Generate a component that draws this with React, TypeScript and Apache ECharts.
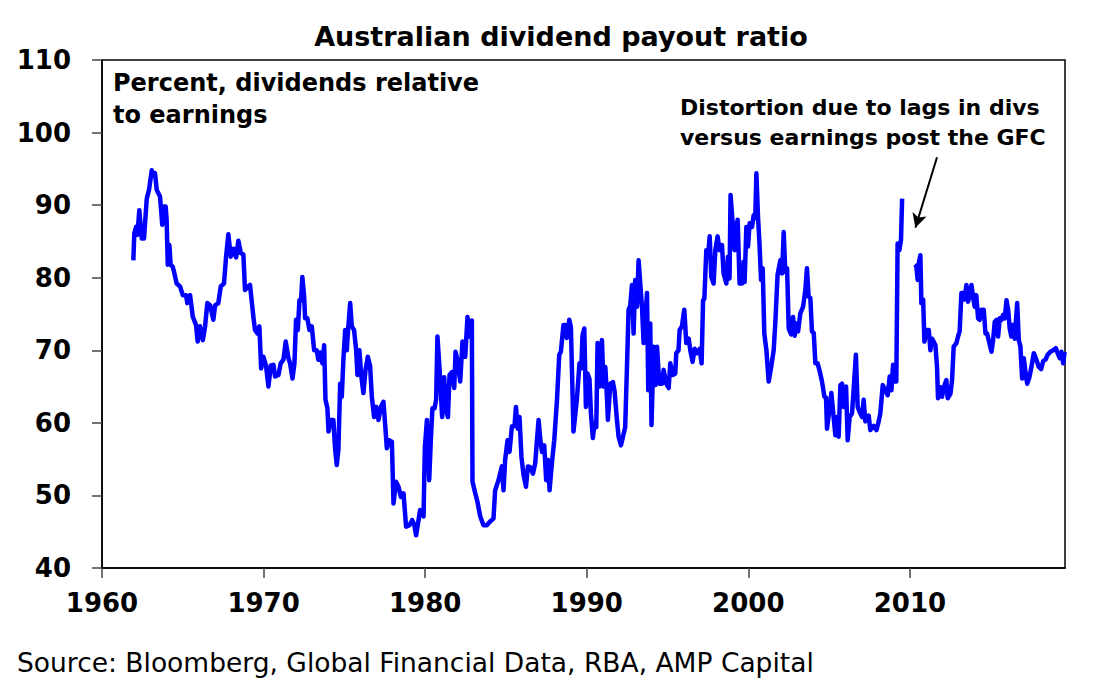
import { useEffect, useRef } from 'react';
import * as echarts from 'echarts';

// Payout ratio (%), [decimal year, value]
const payout1960s: [number, number][] = [
  [1961.94,82.4],[1962.00,86.1],[1962.11,87.0],[1962.19,85.9],[1962.31,89.3],[1962.46,85.4],[1962.60,85.4],[1962.77,90.9],[1962.91,92.1],[1963.08,94.8],[1963.18,94.2],[1963.28,94.4],[1963.39,92.1],[1963.59,91.2],[1963.73,87.3],[1963.84,89.8],[1963.94,89.8],[1964.00,88.0],[1964.07,81.8],[1964.17,84.5],[1964.25,81.8],[1964.38,81.5],[1964.46,80.8],[1964.62,79.2],[1964.83,78.8],[1965.00,77.6],[1965.20,77.6],[1965.28,76.5],[1965.45,77.6],[1965.62,74.6],[1965.82,73.5],[1965.92,71.2],[1966.07,73.3],[1966.24,71.4],[1966.38,73.3],[1966.52,76.5],[1966.69,76.2],[1966.89,74.2],[1967.00,76.2],[1967.20,76.5],[1967.35,78.8],[1967.55,79.2],[1967.68,82.9],[1967.82,86.0],[1967.97,82.9],[1968.13,84.0],[1968.30,82.8],[1968.44,85.1],[1968.59,83.4],[1968.75,83.2],[1968.85,78.3],[1969.06,78.8],[1969.16,79.0],[1969.37,74.6],[1969.47,72.8],[1969.62,72.3],[1969.74,73.3],[1969.85,67.5],[1969.99,69.1]
];
const payout1970s: [number, number][] = [
  [1970.15,67.9],[1970.30,65.0],[1970.45,67.9],[1970.61,68.0],[1970.71,66.4],[1970.92,66.6],[1971.06,68.2],[1971.23,68.7],[1971.37,71.2],[1971.54,68.9],[1971.64,68.2],[1971.79,66.1],[1971.91,68.2],[1972.01,74.2],[1972.12,72.8],[1972.22,76.9],[1972.32,76.9],[1972.40,80.1],[1972.51,77.4],[1972.57,74.4],[1972.71,74.4],[1972.84,72.8],[1972.98,73.3],[1973.13,70.0],[1973.29,70.0],[1973.39,68.7],[1973.50,69.7],[1973.64,68.2],[1973.75,70.7],[1973.83,63.2],[1973.95,62.0],[1974.02,58.8],[1974.16,60.4],[1974.32,60.4],[1974.43,56.3],[1974.53,54.2],[1974.63,56.3],[1974.74,65.4],[1974.84,63.6],[1974.94,68.7],[1975.05,72.8],[1975.15,70.0],[1975.23,72.8],[1975.36,76.5],[1975.46,73.3],[1975.60,72.8],[1975.73,70.0],[1975.81,66.6],[1975.93,70.0],[1976.04,66.6],[1976.18,64.1],[1976.31,67.3],[1976.45,69.1],[1976.59,67.9],[1976.70,63.6],[1976.84,60.8],[1976.97,62.2],[1977.11,60.4],[1977.26,62.2],[1977.42,62.9],[1977.52,59.9],[1977.63,56.5],[1977.77,57.6],[1977.94,57.4],[1978.04,48.9],[1978.20,51.9],[1978.35,51.2],[1978.50,49.8],[1978.66,50.3],[1978.82,45.7],[1979.03,45.9],[1979.20,46.6],[1979.32,46.0],[1979.44,44.5],[1979.59,46.6],[1979.69,48.0],[1979.90,47.1],[1979.98,56.5]
];
const payout1980s: [number, number][] = [
  [1980.11,60.4],[1980.25,52.1],[1980.35,57.6],[1980.45,62.0],[1980.58,62.0],[1980.68,63.2],[1980.76,71.9],[1980.93,66.1],[1981.05,60.8],[1981.18,66.3],[1981.28,61.8],[1981.41,60.8],[1981.51,66.6],[1981.65,67.0],[1981.80,64.8],[1981.88,69.8],[1982.00,68.6],[1982.17,65.7],[1982.31,71.2],[1982.48,69.1],[1982.62,74.6],[1982.74,71.9],[1982.89,74.1],[1982.93,51.9],[1983.10,50.3],[1983.24,49.1],[1983.41,47.1],[1983.61,45.9],[1983.82,45.9],[1984.02,46.4],[1984.23,46.8],[1984.33,50.7],[1984.54,52.1],[1984.75,54.0],[1984.85,50.7],[1984.95,54.9],[1985.10,57.6],[1985.22,56.0],[1985.37,59.5],[1985.53,59.6],[1985.62,62.2],[1985.72,59.2],[1985.84,60.8],[1985.96,55.3],[1986.09,52.8],[1986.24,51.2],[1986.36,54.0],[1986.50,53.9],[1986.67,53.0],[1986.81,54.4],[1986.92,57.6],[1987.02,60.4],[1987.12,57.8],[1987.23,56.0],[1987.37,56.9],[1987.49,52.1],[1987.60,54.9],[1987.70,50.7],[1987.85,54.6],[1987.99,57.6],[1988.16,63.2],[1988.30,69.4],[1988.40,69.8],[1988.56,73.5],[1988.67,73.5],[1988.77,71.7],[1988.92,74.2],[1989.02,73.2],[1989.18,58.8],[1989.39,63.2],[1989.55,68.2],[1989.66,67.5],[1989.74,72.1],[1989.85,73.0],[1989.95,62.2]
];
const payout1990s: [number, number][] = [
  [1990.05,66.8],[1990.17,66.0],[1990.26,61.3],[1990.38,57.9],[1990.48,59.9],[1990.59,59.4],[1990.67,71.0],[1990.79,65.0],[1990.94,71.4],[1991.04,65.0],[1991.15,67.7],[1991.25,63.6],[1991.31,60.4],[1991.46,65.4],[1991.62,65.6],[1991.72,64.4],[1991.87,60.4],[1991.97,58.1],[1992.12,56.9],[1992.24,58.1],[1992.38,59.4],[1992.49,67.7],[1992.59,75.6],[1992.69,76.1],[1992.80,79.0],[1992.90,72.3],[1993.00,79.7],[1993.11,76.0],[1993.21,82.4],[1993.31,79.2],[1993.42,76.0],[1993.52,71.0],[1993.62,74.2],[1993.73,77.9],[1993.81,64.5],[1993.93,73.7],[1994.01,59.7],[1994.14,70.5],[1994.26,65.2],[1994.35,70.5],[1994.49,65.4],[1994.66,65.4],[1994.76,67.3],[1994.92,65.4],[1995.07,64.8],[1995.17,68.2],[1995.34,66.6],[1995.48,66.8],[1995.54,69.6],[1995.68,70.0],[1995.75,72.8],[1995.89,73.3],[1996.04,75.6],[1996.16,71.0],[1996.31,71.6],[1996.41,70.0],[1996.55,68.4],[1996.68,70.2],[1996.82,69.6],[1996.99,70.2],[1997.11,68.2],[1997.20,76.9],[1997.28,77.1],[1997.40,83.8],[1997.51,82.9],[1997.61,85.7],[1997.71,80.1],[1997.85,79.2],[1997.96,83.8],[1998.10,85.7],[1998.22,83.8],[1998.37,84.5],[1998.47,80.6],[1998.64,79.2],[1998.74,82.9],[1998.84,79.9],[1998.90,91.4],[1999.05,87.0],[1999.15,83.8],[1999.26,87.0],[1999.34,88.0],[1999.46,79.2],[1999.61,79.2],[1999.71,82.2],[1999.77,79.4],[1999.88,87.0],[1999.98,84.3]
];
const payout2000s: [number, number][] = [
  [2000.08,87.5],[2000.23,87.0],[2000.33,88.6],[2000.43,88.2],[2000.50,94.4],[2000.60,88.4],[2000.68,85.2],[2000.79,79.7],[2000.89,81.3],[2000.99,72.3],[2001.12,70.0],[2001.26,65.7],[2001.41,67.6],[2001.57,70.0],[2001.67,73.7],[2001.81,80.4],[2001.98,82.4],[2002.09,80.6],[2002.19,86.3],[2002.29,80.8],[2002.40,81.3],[2002.50,73.0],[2002.65,72.2],[2002.77,74.6],[2002.87,72.0],[2002.97,73.7],[2003.08,72.6],[2003.22,75.1],[2003.39,76.0],[2003.53,78.3],[2003.63,81.3],[2003.73,77.4],[2003.84,77.2],[2003.94,72.6],[2004.05,72.4],[2004.15,68.2],[2004.29,68.2],[2004.42,67.1],[2004.56,65.7],[2004.71,63.6],[2004.81,63.5],[2004.87,59.2],[2005.02,61.8],[2005.14,64.1],[2005.28,60.8],[2005.39,58.3],[2005.49,60.8],[2005.59,58.1],[2005.70,65.2],[2005.80,65.4],[2005.90,62.2],[2006.05,65.0],[2006.15,57.6],[2006.27,60.8],[2006.42,61.3],[2006.52,64.6],[2006.66,69.4],[2006.77,62.2],[2006.89,61.5],[2007.04,60.8],[2007.14,63.2],[2007.24,60.2],[2007.45,61.0],[2007.55,59.0],[2007.76,59.6],[2007.93,59.0],[2008.07,60.2],[2008.17,61.3],[2008.32,65.2],[2008.48,64.5],[2008.63,63.8],[2008.75,66.4],[2008.86,64.5],[2008.96,68.0],[2009.06,65.7],[2009.16,65.7],[2009.24,84.7],[2009.35,83.8],[2009.45,85.2],[2009.52,90.9]
];
const payout2010s: [number, number][] = [
  [2010.30,81.8],[2010.40,81.6],[2010.48,79.7],[2010.57,82.2],[2010.65,83.1],[2010.71,76.5],[2010.82,77.0],[2010.90,71.2],[2011.02,72.8],[2011.17,72.8],[2011.27,70.0],[2011.37,71.6],[2011.47,71.2],[2011.58,70.7],[2011.68,67.7],[2011.74,63.4],[2011.89,64.9],[2011.99,63.6],[2012.14,65.2],[2012.26,65.9],[2012.34,63.4],[2012.51,64.0],[2012.61,65.9],[2012.71,70.5],[2012.88,71.0],[2012.98,71.9],[2013.08,72.6],[2013.19,77.9],[2013.29,77.9],[2013.37,77.0],[2013.50,79.0],[2013.60,76.7],[2013.70,77.4],[2013.81,79.0],[2013.91,77.4],[2014.01,76.0],[2014.11,77.6],[2014.22,74.4],[2014.32,74.2],[2014.43,75.6],[2014.57,75.6],[2014.68,72.3],[2014.78,72.3],[2014.92,71.0],[2015.05,69.8],[2015.15,71.4],[2015.25,73.9],[2015.36,74.2],[2015.46,71.9],[2015.56,74.4],[2015.67,74.2],[2015.77,74.9],[2015.87,74.4],[2015.98,76.9],[2016.08,75.6],[2016.18,73.0],[2016.28,71.9],[2016.39,73.5],[2016.49,71.6],[2016.64,76.5],[2016.74,71.4],[2016.84,70.5],[2016.95,66.1],[2017.05,68.9],[2017.15,67.1],[2017.26,65.4],[2017.40,66.3],[2017.52,67.7],[2017.67,69.6],[2017.83,68.7],[2017.98,67.7],[2018.12,67.4],[2018.25,68.5],[2018.39,68.7],[2018.53,69.4],[2018.70,69.8],[2018.87,70.0],[2019.03,70.3],[2019.18,69.4],[2019.28,68.9],[2019.38,69.8],[2019.49,68.2],[2019.57,69.8]
];
// break in the series between the GFC spike and the 2010 restart
const gapPoint: [number, string] = [2009.9, '-'];

const xTickYears = [1960, 1970, 1980, 1990, 2000, 2010];
const xMin = 1960;
const xMax = 2019.6;
const yMin = 40;
const yMax = 110;
const yStep = 10;

const titleText = 'Australian dividend payout ratio';
const unitLines = ['Percent, dividends relative', 'to earnings'];
const noteLines = ['Distortion due to lags in divs', 'versus earnings post the GFC'];
const sourceText = 'Source: Bloomberg, Global Financial Data, RBA, AMP Capital';
// arrow from note to the post-GFC restart [year, value]
const arrowFrom: [number, number] = [2011.68, 96.6];
const arrowTo: [number, number] = [2010.34, 86.9];

const FONT = '"DejaVu Sans", "Liberation Sans", Arial, sans-serif';

export default function App() {
  const ref = useRef<HTMLDivElement>(null);
  useEffect(() => {
    if (!ref.current) return;
    const chart = echarts.init(ref.current, undefined, { renderer: 'svg' });
    const data = [
      ...payout1960s, ...payout1970s, ...payout1980s, ...payout1990s,
      ...payout2000s, gapPoint, ...payout2010s,
    ];
    chart.setOption({
      animation: false,
      backgroundColor: '#ffffff',
      grid: {
        left: 102, right: 33, top: 60, bottom: 125,
        show: true, borderColor: '#000', borderWidth: 1.5, backgroundColor: 'transparent',
      },
      xAxis: {
        type: 'value',
        min: xMin, max: xMax, interval: 10,
        axisLine: { show: true, lineStyle: { color: '#000', width: 1.5 } },
        axisTick: { show: true, length: 10, customValues: xTickYears, lineStyle: { color: '#444', width: 1.5 } },
        axisLabel: {
          customValues: xTickYears,
          margin: 22,
          color: '#000', fontFamily: FONT, fontWeight: 'bold', fontSize: 26,
          formatter: (v: number) => String(Math.round(v)),
        },
        splitLine: { show: false },
      },
      yAxis: {
        type: 'value',
        min: yMin, max: yMax, interval: yStep,
        axisLine: { show: true, lineStyle: { color: '#000', width: 1.5 } },
        axisTick: { show: true, length: 10, lineStyle: { color: '#444', width: 1.5 } },
        axisLabel: {
          margin: 31,
          color: '#000', fontFamily: FONT, fontWeight: 'bold', fontSize: 26,
        },
        splitLine: { show: false },
      },
      series: [
        {
          type: 'line',
          data,
          showSymbol: false,
          connectNulls: false,
          lineStyle: { color: '#0000ff', width: 4.5, join: 'round' },
          itemStyle: { color: '#0000ff' },
          markLine: {
            silent: true,
            symbol: ['none', 'arrow'],
            symbolSize: [11, 14],
            label: { show: false },
            lineStyle: { color: '#000', width: 2, type: 'solid' },
            data: [[{ coord: arrowFrom }, { coord: arrowTo }]],
          },
        },
      ],
      graphic: [
        {
          type: 'text', x: 561, y: 36,
          style: { text: titleText, font: `bold 27px ${FONT}`, fill: '#000', align: 'center', verticalAlign: 'middle' },
        },
        {
          type: 'text', x: 113, y: 83,
          style: { text: unitLines[0], font: `bold 24px ${FONT}`, fill: '#000', align: 'left', verticalAlign: 'middle' },
        },
        {
          type: 'text', x: 113, y: 115,
          style: { text: unitLines[1], font: `bold 24px ${FONT}`, fill: '#000', align: 'left', verticalAlign: 'middle' },
        },
        {
          type: 'text', x: 680, y: 107,
          style: { text: noteLines[0], font: `bold 22px ${FONT}`, fill: '#000', align: 'left', verticalAlign: 'middle' },
        },
        {
          type: 'text', x: 680, y: 137,
          style: { text: noteLines[1], font: `bold 22px ${FONT}`, fill: '#000', align: 'left', verticalAlign: 'middle' },
        },
        {
          type: 'text', x: 17, y: 662,
          style: { text: sourceText, font: `26.5px ${FONT}`, fill: '#000', align: 'left', verticalAlign: 'middle' },
        },
      ],
    });
    return () => chart.dispose();
  }, []);
  return (
    <div
      ref={ref}
      style={{ position: 'fixed', left: 0, top: 0, width: 1098, height: 693, background: '#fff' }}
    />
  );
}
